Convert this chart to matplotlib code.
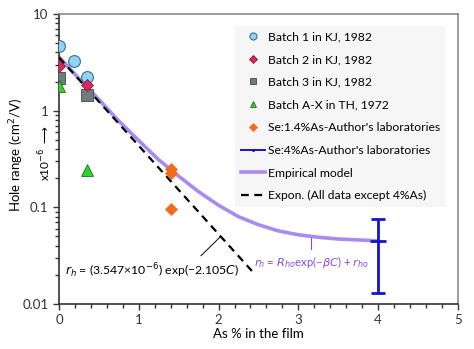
import matplotlib
matplotlib.use('Agg')
import matplotlib.pyplot as plt
from matplotlib.lines import Line2D
from matplotlib.ticker import MultipleLocator, LogLocator, NullFormatter, FixedFormatter, FixedLocator

plt.rcParams['font.family'] = ['Lato', 'DejaVu Sans']
plt.rcParams['mathtext.fontset'] = 'dejavusans'

# data (hole range x10^-6 cm2/V vs As %)
b1_x = [0.0, 0.19, 0.35]
b1_y = [4.7, 3.3, 2.25]
b2_x = [0.0, 0.35]
b2_y = [2.9, 1.83]
b3_x = [0.0, 0.35]
b3_y = [2.15, 1.46]
bax_x = [0.0, 0.35]
bax_y = [1.8, 0.245]
se14_x = [1.4, 1.4, 1.4]
se14_y = [0.225, 0.25, 0.096]
se4_x = [4.0]
se4_y = [0.0453]
se4_lo = [0.0323]
se4_hi = [0.030]
model_x = [0.0, 0.25, 0.5, 0.75, 1.0, 1.25, 1.5, 1.75, 2.0, 2.25, 2.5, 2.75, 3.0, 3.25, 3.5, 3.75, 4.0]
model_y = [3.6, 2.15, 1.3, 0.78, 0.49, 0.31, 0.21, 0.145, 0.105, 0.08, 0.066, 0.057, 0.052, 0.049, 0.047, 0.046, 0.045]
expo_x = [0.0, 2.43]
expo_y = [3.547, 0.0214]

fig = plt.figure(figsize=(4.74, 3.49), dpi=100)
ax = fig.add_axes([0.1245, 0.129, 0.8415, 0.831])

ax.plot(model_x, model_y, '-', color='#a68cf0', lw=2.6, label='Empirical model', zorder=2)
ax.plot(expo_x, expo_y, '--', color='black', lw=1.6, dashes=(3.5, 2.5),
        label='Expon. (All data except 4%As)', zorder=3)

ax.plot(b1_x, b1_y, 'o', ms=8.5, mfc='#8dd3f2', mec='#3d6f8c', mew=0.8, label='Batch 1 in KJ, 1982', zorder=4)
ax.plot(b2_x, b2_y, 'D', ms=6.5, mfc='#d8285c', mec='#8a1a3a', mew=0.6, label='Batch 2 in KJ, 1982', zorder=5)
ax.plot(b3_x, b3_y, 's', ms=8, mfc='#6f7c7e', mec='#404848', mew=0.6, label='Batch 3 in KJ, 1982', zorder=4)
ax.plot(bax_x, bax_y, '^', ms=8, mfc='#2ad42a', mec='#207020', mew=0.6, label='Batch A-X in TH, 1972', zorder=4)
ax.plot(se14_x, se14_y, 'D', ms=6.5, mfc='#f26b1d', mec='#f26b1d', mew=0.5,
        label="Se:1.4%As-Author's laboratories", zorder=4)
ax.errorbar(se4_x, se4_y, yerr=[se4_lo, se4_hi], fmt='_', color='#1414c8', ms=11, mew=2,
            elinewidth=2, capsize=5, capthick=2, zorder=5)
se4_handle = Line2D([], [], color='#1414c8', lw=1.4, marker='o', ms=2)

ax.set_yscale('log')
ax.set_xlim(0, 5)
ax.set_ylim(0.01, 10)
ax.xaxis.set_major_locator(MultipleLocator(1))
ax.xaxis.set_minor_locator(MultipleLocator(0.2))
ax.yaxis.set_major_locator(FixedLocator([0.01, 0.1, 1, 10]))
ax.yaxis.set_major_formatter(FixedFormatter(['0.01', '0.1', '1', '10']))
ax.yaxis.set_minor_locator(LogLocator(base=10, subs=range(2, 10)))
ax.yaxis.set_minor_formatter(NullFormatter())
ax.tick_params(axis='both', which='major', direction='out', length=4, width=1, labelsize=9.5, colors='#333333')
ax.tick_params(axis='both', which='minor', direction='out', length=3, width=1, colors='#333333')
for s in ['top', 'right']:
    ax.spines[s].set_color('#8a8a8a')
    ax.spines[s].set_linewidth(1.2)
for s in ['left', 'bottom']:
    ax.spines[s].set_color('#333333')
    ax.spines[s].set_linewidth(1.2)

ax.set_xlabel('As % in the film', fontsize=9.5, labelpad=1)
fig.text(0.036, 0.555, 'Hole range (cm$^2$/V)', rotation=90, ha='center', va='center', fontsize=9.5)
fig.text(0.094, 0.56, 'x10$^{-6}$ $\\longrightarrow$', rotation=90, ha='center', va='center', fontsize=8.5)

# fit equation + leader
ax.text(0.075, 0.022, r'$r_h$ = (3.547×10$^{-6}$) exp(−2.105$C$)', fontsize=8.8, va='center', ha='left')
ax.plot([1.78, 2.025], [0.0316, 0.0497], color='black', lw=0.7)
# model equation + leader
ax.text(2.45, 0.0274, r'$r_h$ = $R_{ho}$exp(−$\beta C$) + $r_{ho}$', fontsize=8.2, va='center', ha='left',
        color='#7a4fe6')
ax.plot([3.16, 3.16], [0.0374, 0.0483], color='#7a4fe6', lw=0.8)

h, l = ax.get_legend_handles_labels()
handles = [h[2], h[3], h[4], h[5], h[6], se4_handle, h[0], h[1]]
labels = [l[2], l[3], l[4], l[5], l[6], "Se:4%As-Author's laboratories", l[0], l[1]]
leg = ax.legend(handles, labels, loc='upper right',
                bbox_to_anchor=(0.985, 0.98), fontsize=8.7, markerscale=0.6, frameon=True,
                facecolor='#f6f6f6', edgecolor='none', framealpha=1, fancybox=False,
                labelspacing=0.97, handlelength=2.0, handletextpad=0.3, borderpad=0.45)

fig.savefig('out.png', dpi=100)
